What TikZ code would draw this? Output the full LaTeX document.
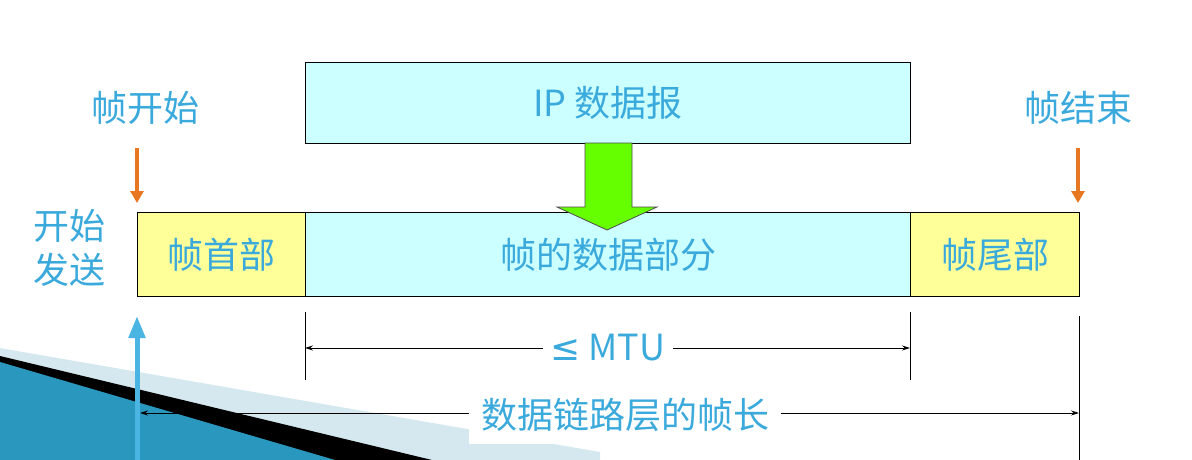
\documentclass[tikz,border=0pt]{standalone}
\usepackage{fontspec}
\setmainfont{Noto Sans CJK SC}
\newfontfamily\symf{DejaVu Sans}
\usetikzlibrary{arrows.meta}
\definecolor{txt}{HTML}{3AA9DC}
\definecolor{cy}{HTML}{CCFFFF}
\definecolor{yl}{HTML}{FFFF99}
\definecolor{org}{HTML}{E87722}
\definecolor{blu}{HTML}{4AB5E3}
\definecolor{grn}{HTML}{66FF00}
\definecolor{band}{HTML}{D5E8EF}
\definecolor{deep}{HTML}{2A98BE}
\begin{document}
\begin{tikzpicture}[x=1pt,y=-1pt,
  lbl/.style={text=txt,font=\fontsize{36}{42}\selectfont,inner sep=2pt},
  cbox/.style={draw=black,line width=1pt,fill=cy},
  ybox/.style={draw=black,line width=1pt,fill=yl},
  oarr/.style={draw=org,line width=3.5pt,-{Triangle[length=12pt,width=13pt]}},
  dim/.style={draw=black,line width=0.8pt,{Stealth[length=8pt,width=5pt]}-{Stealth[length=8pt,width=5pt]}},
  tick/.style={draw=black,line width=0.8pt}]
\useasboundingbox (0,0) rectangle (1192,460);
% decoration
\fill[band] (0,348) -- (600,452) -- (600,460) -- (0,460) -- cycle;
\fill[black] (0,356) -- (432,460) -- (0,460) -- cycle;
\fill[deep] (0,362) -- (335,460) -- (0,460) -- cycle;
% boxes
\node[cbox,minimum width=605pt,minimum height=81pt,anchor=north west] (ip) at (305,62) {};
\node[lbl] at (ip.center) {IP 数据报};
\node[ybox,minimum width=168pt,minimum height=84pt,anchor=north west] (hd) at (137,212) {};
\node[cbox,minimum width=605pt,minimum height=84pt,anchor=north west] (dt) at (305,212) {};
\node[ybox,minimum width=169pt,minimum height=84pt,anchor=north west] (tl) at (910,212) {};
\node[lbl] at (hd.center) {帧首部};
\node[lbl] at (dt.center) {帧的数据部分};
\node[lbl] at (tl.center) {帧尾部};
% green arrow
\draw[fill=grn,draw=black!70,line width=0.8pt] (585,143) -- (632,143) -- (632,207) -- (657,207) -- (607,230) -- (557,207) -- (585,207) -- cycle;
% labels top
\node[lbl] (fs) at (145,108) {帧开始};
\node[lbl] (fe) at (1078,108) {帧结束};
\coordinate (fs1) at (137,148); \coordinate (fs2) at (137,203);
\coordinate (fe1) at (1078,148); \coordinate (fe2) at (1078,203);
\draw[oarr] (fs1) -- (fs2);
\draw[oarr] (fe1) -- (fe2);
\node[lbl,align=center,font=\fontsize{36}{44}\selectfont] (ks) at (70,248) {开始\\发送};
% blue arrow
\coordinate (b1) at (137,460); \coordinate (b2) at (137,316);
\draw[draw=blu,line width=5pt,-{Triangle[length=22pt,width=16pt]}] (b1) -- (b2);
% ticks
\coordinate (t1a) at (305,312); \coordinate (t1b) at (305,380);
\coordinate (t2a) at (910,312); \coordinate (t2b) at (910,380);
\coordinate (t3a) at (1079,316); \coordinate (t3b) at (1079,460);
\draw[tick] (t1a) -- (t1b); \draw[tick] (t2a) -- (t2b); \draw[tick] (t3a) -- (t3b);
\coordinate (m1) at (305,348); \coordinate (m2) at (910,348);
\draw[dim] (m1) -- (m2);
\node[lbl,fill=white,inner xsep=8pt] at (608,348) {{\symf ≤} MTU};
\coordinate (l1) at (140,413); \coordinate (l2) at (1079,413);
\draw[dim] (l1) -- (l2);
\node[lbl,fill=white,inner xsep=12pt,minimum height=58pt] at (625,415) {数据链路层的帧长};
\end{tikzpicture}
\end{document}
